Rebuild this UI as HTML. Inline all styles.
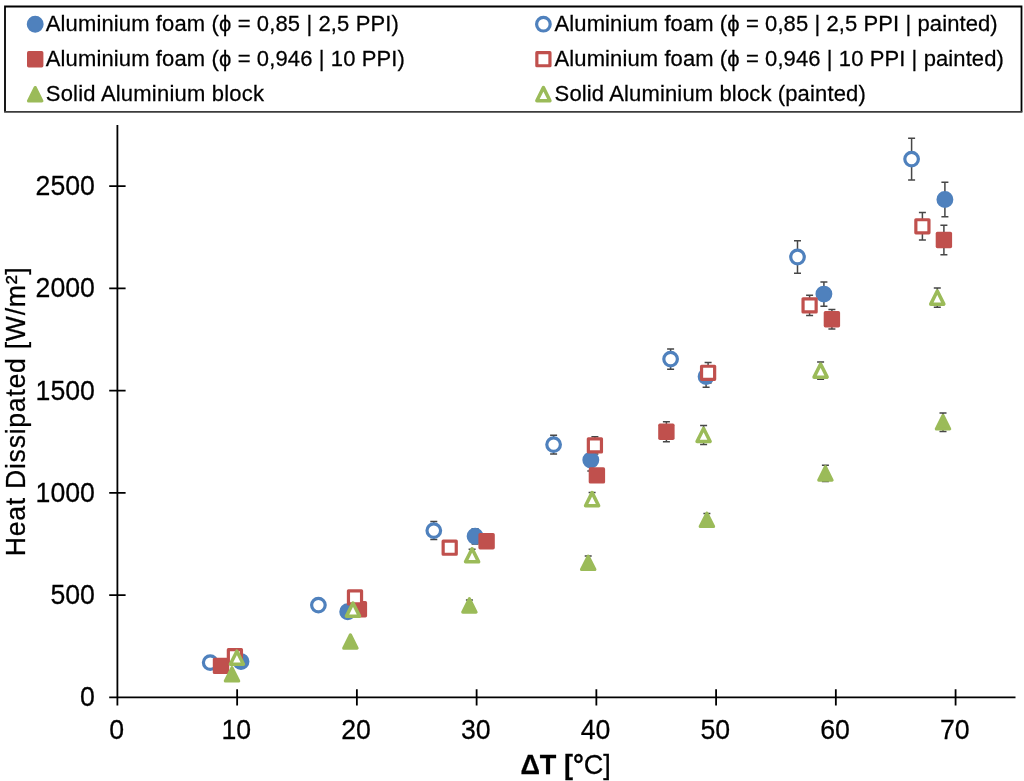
<!DOCTYPE html>
<html><head><meta charset="utf-8"><title>Heat Dissipated vs ΔT</title>
<style>html,body{margin:0;padding:0;background:#fff;}svg{display:block;}</style></head>
<body><svg width="1024" height="781" viewBox="0 0 1024 781">
<rect width="1024" height="781" fill="#fff"/>
<g stroke="#000" stroke-width="1.8" fill="none">
<path d="M117.4 125V705.6M109.2 697.4H1015.5"/>
<path d="M109.2 595.15H125.6M109.2 492.9H125.6M109.2 390.65H125.6M109.2 288.4H125.6M109.2 186.15H125.6M237.14 689.2V705.6M356.88 689.2V705.6M476.62 689.2V705.6M596.36 689.2V705.6M716.1 689.2V705.6M835.84 689.2V705.6M955.58 689.2V705.6"/>
</g>
<g font-family="Liberation Sans, Arial, sans-serif" fill="#000" stroke="#000" stroke-width="0.25">
<text transform="translate(94.9 706.4) scale(1 1.03)" font-size="26.67" text-anchor="end">0</text>
<text transform="translate(94.9 604.15) scale(1 1.03)" font-size="26.67" text-anchor="end">500</text>
<text transform="translate(94.9 501.9) scale(1 1.03)" font-size="26.67" text-anchor="end">1000</text>
<text transform="translate(94.9 399.65) scale(1 1.03)" font-size="26.67" text-anchor="end">1500</text>
<text transform="translate(94.9 297.4) scale(1 1.03)" font-size="26.67" text-anchor="end">2000</text>
<text transform="translate(94.9 195.15) scale(1 1.03)" font-size="26.67" text-anchor="end">2500</text>
<text transform="translate(116.6 739) scale(1 1.03)" font-size="26.67" text-anchor="middle">0</text>
<text transform="translate(236.34 739) scale(1 1.03)" font-size="26.67" text-anchor="middle">10</text>
<text transform="translate(356.08 739) scale(1 1.03)" font-size="26.67" text-anchor="middle">20</text>
<text transform="translate(475.82 739) scale(1 1.03)" font-size="26.67" text-anchor="middle">30</text>
<text transform="translate(595.56 739) scale(1 1.03)" font-size="26.67" text-anchor="middle">40</text>
<text transform="translate(715.3 739) scale(1 1.03)" font-size="26.67" text-anchor="middle">50</text>
<text transform="translate(835.04 739) scale(1 1.03)" font-size="26.67" text-anchor="middle">60</text>
<text transform="translate(954.78 739) scale(1 1.03)" font-size="26.67" text-anchor="middle">70</text>
<text transform="translate(25.3 556.3) rotate(-90) scale(1 1.05)" font-size="26.67" textLength="289" lengthAdjust="spacing">Heat Dissipated [W/m²]</text>
<text transform="translate(520.4 773.8) scale(1 1.03)" font-size="27.1"><tspan font-weight="bold">ΔT [°</tspan>C]</text>
</g>
<g stroke="#474747" stroke-width="1.5" fill="none">
<path d="M241 656.6V666.6M237.5 656.6H244.5M237.5 666.6H244.5"/>
<path d="M347.7 606.7V616.7M344.2 606.7H351.2M344.2 616.7H351.2"/>
<path d="M475.1 528.7V543.9M471.6 528.7H478.6M471.6 543.9H478.6"/>
<path d="M590.8 449.1V471.1M587.3 449.1H594.3M587.3 471.1H594.3"/>
<path d="M706.1 365.7V387.3M702.6 365.7H709.6M702.6 387.3H709.6"/>
<path d="M823.9 281.9V306.3M820.4 281.9H827.4M820.4 306.3H827.4"/>
<path d="M944.9 182.2V216.8M941.4 182.2H948.4M941.4 216.8H948.4"/>
<path d="M210.2 657.6V667.6M206.7 657.6H213.7M206.7 667.6H213.7"/>
<path d="M318.4 600.1V610.1M314.9 600.1H321.9M314.9 610.1H321.9"/>
<path d="M433.8 521.6V539.6M430.3 521.6H437.3M430.3 539.6H437.3"/>
<path d="M553.6 435.2V454M550.1 435.2H557.1M550.1 454H557.1"/>
<path d="M670.6 348.9V369.3M667.1 348.9H674.1M667.1 369.3H674.1"/>
<path d="M797.5 240.8V273.2M794 240.8H801M794 273.2H801"/>
<path d="M911.6 138.3V179.9M908.1 138.3H915.1M908.1 179.9H915.1"/>
<path d="M221 660.9V670.9M217.5 660.9H224.5M217.5 670.9H224.5"/>
<path d="M358.9 604.2V614.2M355.4 604.2H362.4M355.4 614.2H362.4"/>
<path d="M486.6 536.3V546.3M483.1 536.3H490.1M483.1 546.3H490.1"/>
<path d="M596.9 470.4V480.4M593.4 470.4H600.4M593.4 480.4H600.4"/>
<path d="M666.4 421.8V441.8M662.9 421.8H669.9M662.9 441.8H669.9"/>
<path d="M831.9 309.4V329M828.4 309.4H835.4M828.4 329H835.4"/>
<path d="M943.9 225.2V254.8M940.4 225.2H947.4M940.4 254.8H947.4"/>
<path d="M234.9 651.2V661.2M231.4 651.2H238.4M231.4 661.2H238.4"/>
<path d="M355 592.4V602.4M351.5 592.4H358.5M351.5 602.4H358.5"/>
<path d="M449.7 542.7V552.7M446.2 542.7H453.2M446.2 552.7H453.2"/>
<path d="M594.9 436.8V454M591.4 436.8H598.4M591.4 454H598.4"/>
<path d="M708.1 362.6V383M704.6 362.6H711.6M704.6 383H711.6"/>
<path d="M809.6 295.2V315.6M806.1 295.2H813.1M806.1 315.6H813.1"/>
<path d="M922.4 212.6V240M918.9 212.6H925.9M918.9 240H925.9"/>


<path d="M469.4 600V610.8M465.9 600H472.9M465.9 610.8H472.9"/>
<path d="M588.2 556.1V569.5M584.7 556.1H591.7M584.7 569.5H591.7"/>
<path d="M706.9 513.5V526.1M703.4 513.5H710.4M703.4 526.1H710.4"/>
<path d="M825.4 465.2V481.6M821.9 465.2H828.9M821.9 481.6H828.9"/>
<path d="M943 412.95V431.45M939.5 412.95H946.5M939.5 431.45H946.5"/>


<path d="M472.1 549.3V561.3M468.6 549.3H475.6M468.6 561.3H475.6"/>
<path d="M592.1 492.4V506M588.6 492.4H595.6M588.6 506H595.6"/>
<path d="M703.6 425.4V444.6M700.1 425.4H707.1M700.1 444.6H707.1"/>
<path d="M820.6 361.9V379.3M817.1 361.9H824.1M817.1 379.3H824.1"/>
<path d="M937.3 288.05V307.15M933.8 288.05H940.8M933.8 307.15H940.8"/>
</g>
<circle cx="241" cy="661.6" r="7.55" fill="#4F81BD" stroke="#4F81BD" stroke-width="1.8"/>
<circle cx="347.7" cy="611.7" r="7.55" fill="#4F81BD" stroke="#4F81BD" stroke-width="1.8"/>
<circle cx="475.1" cy="536.3" r="7.55" fill="#4F81BD" stroke="#4F81BD" stroke-width="1.8"/>
<circle cx="590.8" cy="460.1" r="7.55" fill="#4F81BD" stroke="#4F81BD" stroke-width="1.8"/>
<circle cx="706.1" cy="376.5" r="7.55" fill="#4F81BD" stroke="#4F81BD" stroke-width="1.8"/>
<circle cx="823.9" cy="294.1" r="7.55" fill="#4F81BD" stroke="#4F81BD" stroke-width="1.8"/>
<circle cx="944.9" cy="199.5" r="7.55" fill="#4F81BD" stroke="#4F81BD" stroke-width="1.8"/>
<circle cx="210.2" cy="662.6" r="6.8" fill="#fff" stroke="#4F81BD" stroke-width="3.2"/>
<circle cx="318.4" cy="605.1" r="6.8" fill="#fff" stroke="#4F81BD" stroke-width="3.2"/>
<circle cx="433.8" cy="530.6" r="6.8" fill="#fff" stroke="#4F81BD" stroke-width="3.2"/>
<circle cx="553.6" cy="444.6" r="6.8" fill="#fff" stroke="#4F81BD" stroke-width="3.2"/>
<circle cx="670.6" cy="359.1" r="6.8" fill="#fff" stroke="#4F81BD" stroke-width="3.2"/>
<circle cx="797.5" cy="257" r="6.8" fill="#fff" stroke="#4F81BD" stroke-width="3.2"/>
<circle cx="911.6" cy="159.1" r="6.8" fill="#fff" stroke="#4F81BD" stroke-width="3.2"/>
<rect x="212.8" y="657.7" width="16.4" height="16.4" rx="1.7" fill="#C0504D"/>
<rect x="350.7" y="601" width="16.4" height="16.4" rx="1.7" fill="#C0504D"/>
<rect x="478.4" y="533.1" width="16.4" height="16.4" rx="1.7" fill="#C0504D"/>
<rect x="588.7" y="467.2" width="16.4" height="16.4" rx="1.7" fill="#C0504D"/>
<rect x="658.2" y="423.6" width="16.4" height="16.4" rx="1.7" fill="#C0504D"/>
<rect x="823.7" y="311" width="16.4" height="16.4" rx="1.7" fill="#C0504D"/>
<rect x="935.7" y="231.8" width="16.4" height="16.4" rx="1.7" fill="#C0504D"/>
<rect x="228.35" y="649.65" width="13.1" height="13.1" fill="#fff" stroke="#C0504D" stroke-width="3.2" stroke-linejoin="round"/>
<rect x="348.45" y="590.85" width="13.1" height="13.1" fill="#fff" stroke="#C0504D" stroke-width="3.2" stroke-linejoin="round"/>
<rect x="443.15" y="541.15" width="13.1" height="13.1" fill="#fff" stroke="#C0504D" stroke-width="3.2" stroke-linejoin="round"/>
<rect x="588.35" y="438.85" width="13.1" height="13.1" fill="#fff" stroke="#C0504D" stroke-width="3.2" stroke-linejoin="round"/>
<rect x="701.55" y="366.25" width="13.1" height="13.1" fill="#fff" stroke="#C0504D" stroke-width="3.2" stroke-linejoin="round"/>
<rect x="803.05" y="298.85" width="13.1" height="13.1" fill="#fff" stroke="#C0504D" stroke-width="3.2" stroke-linejoin="round"/>
<rect x="915.85" y="219.75" width="13.1" height="13.1" fill="#fff" stroke="#C0504D" stroke-width="3.2" stroke-linejoin="round"/>
<polygon points="232,667.6 238.7,681 225.3,681" fill="#9BBB59" stroke="#9BBB59" stroke-width="3.1" stroke-linejoin="round"/>
<polygon points="350.4,634.8 357.1,648.2 343.7,648.2" fill="#9BBB59" stroke="#9BBB59" stroke-width="3.1" stroke-linejoin="round"/>
<polygon points="469.4,598.7 476.1,612.1 462.7,612.1" fill="#9BBB59" stroke="#9BBB59" stroke-width="3.1" stroke-linejoin="round"/>
<polygon points="588.2,556.1 594.9,569.5 581.5,569.5" fill="#9BBB59" stroke="#9BBB59" stroke-width="3.1" stroke-linejoin="round"/>
<polygon points="706.9,513.1 713.6,526.5 700.2,526.5" fill="#9BBB59" stroke="#9BBB59" stroke-width="3.1" stroke-linejoin="round"/>
<polygon points="825.4,466.7 832.1,480.1 818.7,480.1" fill="#9BBB59" stroke="#9BBB59" stroke-width="3.1" stroke-linejoin="round"/>
<polygon points="943,415.5 949.7,428.9 936.3,428.9" fill="#9BBB59" stroke="#9BBB59" stroke-width="3.1" stroke-linejoin="round"/>
<polygon points="236.9,651.2 243.45,664.3 230.35,664.3" fill="#fff" stroke="#9BBB59" stroke-width="3.5" stroke-linejoin="round"/>
<polygon points="353,603.05 359.55,616.15 346.45,616.15" fill="#fff" stroke="#9BBB59" stroke-width="3.5" stroke-linejoin="round"/>
<polygon points="472.1,548.75 478.65,561.85 465.55,561.85" fill="#fff" stroke="#9BBB59" stroke-width="3.5" stroke-linejoin="round"/>
<polygon points="592.1,492.65 598.65,505.75 585.55,505.75" fill="#fff" stroke="#9BBB59" stroke-width="3.5" stroke-linejoin="round"/>
<polygon points="703.6,428.45 710.15,441.55 697.05,441.55" fill="#fff" stroke="#9BBB59" stroke-width="3.5" stroke-linejoin="round"/>
<polygon points="820.6,364.05 827.15,377.15 814.05,377.15" fill="#fff" stroke="#9BBB59" stroke-width="3.5" stroke-linejoin="round"/>
<polygon points="937.3,291.05 943.85,304.15 930.75,304.15" fill="#fff" stroke="#9BBB59" stroke-width="3.5" stroke-linejoin="round"/>
<path d="M5 111.8V6.5H1021.5V111.8" fill="none" stroke="#000" stroke-width="1.8" stroke-linejoin="miter"/>
<path d="M4.1 111.8H1022.4" fill="none" stroke="#3c3c3c" stroke-width="1.8"/>
<circle cx="35.2" cy="24.2" r="7.55" fill="#4F81BD" stroke="#4F81BD" stroke-width="1.8"/>
<circle cx="543.4" cy="24.2" r="6.8" fill="#fff" stroke="#4F81BD" stroke-width="3.2"/>
<rect x="27" y="51" width="16.4" height="16.4" rx="1.7" fill="#C0504D"/>
<rect x="536.85" y="52.65" width="13.1" height="13.1" fill="#fff" stroke="#C0504D" stroke-width="3.2" stroke-linejoin="round"/>
<polygon points="35.2,87.5 41.9,100.9 28.5,100.9" fill="#9BBB59" stroke="#9BBB59" stroke-width="3.1" stroke-linejoin="round"/>
<polygon points="543.4,87.65 549.95,100.75 536.85,100.75" fill="#fff" stroke="#9BBB59" stroke-width="3.5" stroke-linejoin="round"/>
<g font-family="Liberation Sans, Arial, sans-serif" fill="#000" stroke="#000" stroke-width="0.25">
<text transform="translate(45.8 31.4) scale(1 1.04)" font-size="22" textLength="353" lengthAdjust="spacing">Aluminium foam (ϕ = 0,85 | 2,5 PPI)</text>
<text transform="translate(554.6 31.4) scale(1 1.04)" font-size="22" textLength="443.11" lengthAdjust="spacing">Aluminium foam (ϕ = 0,85 | 2,5 PPI | painted)</text>
<text transform="translate(45.8 66.4) scale(1 1.04)" font-size="22" textLength="359.12" lengthAdjust="spacing">Aluminium foam (ϕ = 0,946 | 10 PPI)</text>
<text transform="translate(554.6 66.4) scale(1 1.04)" font-size="22" textLength="449.23" lengthAdjust="spacing">Aluminium foam (ϕ = 0,946 | 10 PPI | painted)</text>
<text transform="translate(45.8 101.4) scale(1 1.04)" font-size="22" textLength="218.18" lengthAdjust="spacing">Solid Aluminium block</text>
<text transform="translate(554.6 101.4) scale(1 1.04)" font-size="22" textLength="311.14" lengthAdjust="spacing">Solid Aluminium block (painted)</text>
</g>
</svg></body></html>
